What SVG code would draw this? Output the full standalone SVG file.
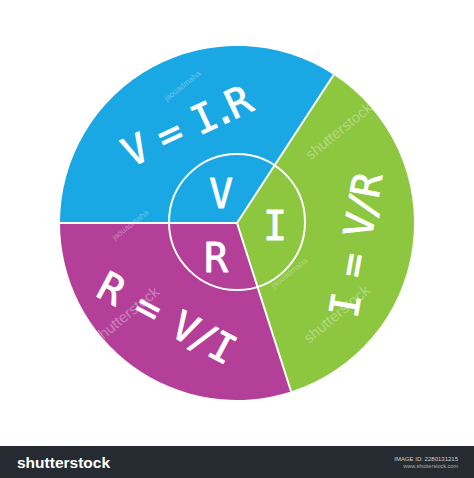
<svg xmlns="http://www.w3.org/2000/svg" width="474" height="478" viewBox="0 0 474 478">
<style>
.big{font-family:"DejaVu Sans Mono","Liberation Mono",monospace;font-size:40px;fill:#fff;stroke:#fff;stroke-width:0.8;stroke-linejoin:round;text-anchor:middle}
.wm{font-family:"Liberation Sans",Arial,sans-serif;fill:#fff;fill-opacity:0.35;text-anchor:middle}
.div{stroke:#fff;stroke-width:2;fill:none}
</style>
<rect width="474" height="478" fill="#fff"/>
<g id="sector-V">
<path d="M237 223 L60 223 A177 177 0 0 1 333.7 74.7 Z" fill="#19a8e3"/>
</g>
<g id="sector-I">
<path d="M237 223 L333.7 74.7 A177 177 0 0 1 291.1 391.5 Z" fill="#8dc63f"/>
</g>
<g id="sector-R">
<path d="M237 223 L291.1 391.5 A177 177 0 0 1 60 223 Z" fill="#b43f99"/>
</g>
<g id="connectors">
<path class="div" d="M237 223 L60 223 M237 223 L333.7 74.7 M237 223 L291.1 391.5"/>
<circle class="div" cx="237" cy="222" r="68"/>
</g>
<g id="labels">
<text class="big" x="221" y="208">V</text>
<text class="big" x="275" y="240">I</text>
<text class="big" x="216" y="272">R</text>
<text class="big" transform="translate(187,126) rotate(-25)" x="0" y="14" textLength="138" lengthAdjust="spacing">V = I.R</text>
<text class="big" transform="translate(356,245) rotate(-80)" x="0" y="14" textLength="146" lengthAdjust="spacing">I = V/R</text>
<text class="big" transform="translate(167,318) rotate(28)" x="0" y="14" textLength="150" lengthAdjust="spacing">R = V/I</text>
</g>
<g id="watermarks">
<text class="wm" font-size="15" transform="translate(342,135) rotate(-39)">shutterstock</text>
<text class="wm" font-size="15" transform="translate(340,318) rotate(-40)">shutterstock</text>
<text class="wm" font-size="15" transform="translate(129,319) rotate(-39)">shutterstock</text>
<text class="wm" font-size="8" transform="translate(184,88) rotate(-38)">jaouadmaha</text>
<text class="wm" font-size="8" transform="translate(132,227) rotate(-38)">jaouadmaha</text>
<text class="wm" font-size="8" transform="translate(291,275) rotate(-38)">jaouadmaha</text>
</g>
<g id="footer">
<rect x="0" y="446" width="474" height="32" fill="#262a31"/>
<text x="17" y="468" font-family="Liberation Sans,Arial,sans-serif" font-weight="bold" font-size="15.5" fill="#fff">shutterstock</text>
<text x="458" y="461" font-family="Liberation Sans,Arial,sans-serif" font-size="6" fill="#d0d0d0" text-anchor="end">IMAGE ID: 2280131215</text>
<text x="458" y="468" font-family="Liberation Sans,Arial,sans-serif" font-size="5.5" fill="#b0b0b0" text-anchor="end">www.shutterstock.com</text>
</g>
</svg>
